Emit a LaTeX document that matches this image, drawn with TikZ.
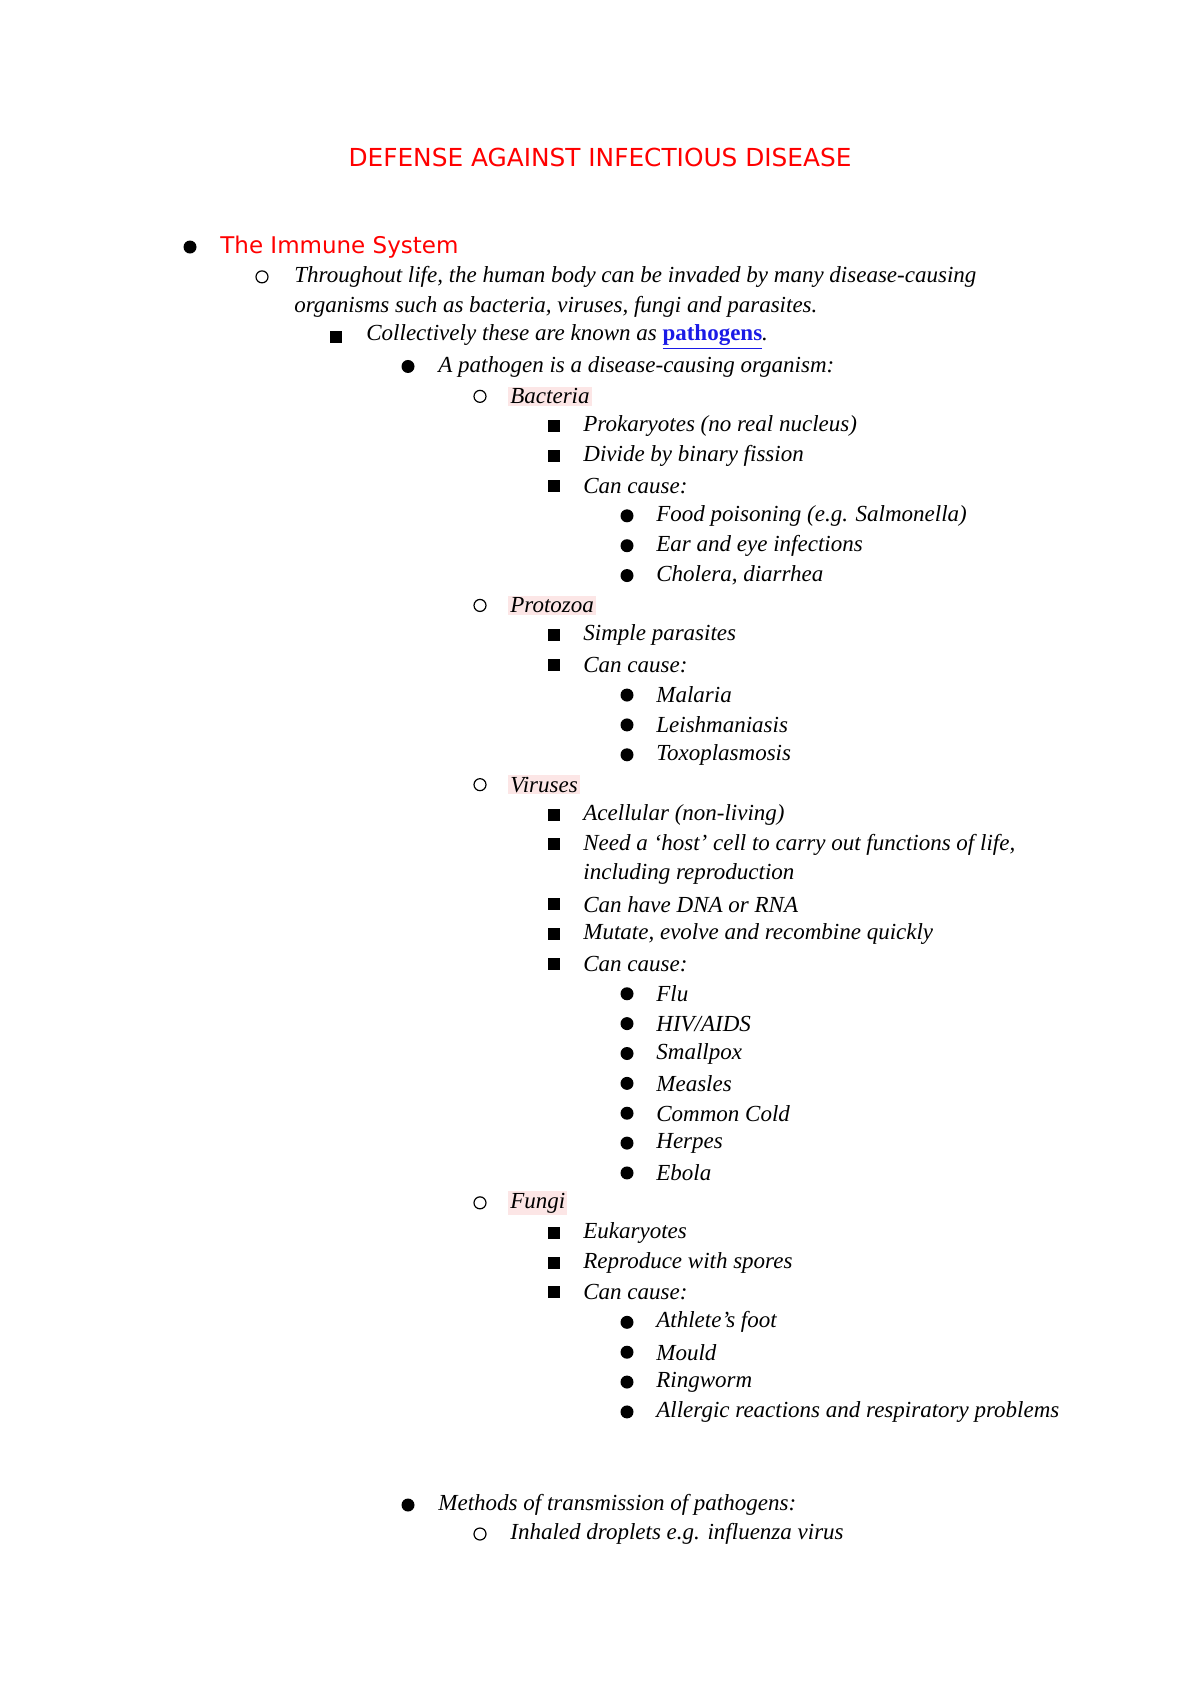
\documentclass[tikz,border=0pt]{standalone}
\usepackage{fontspec}
\setmainfont{Liberation Serif}
\newfontfamily\titlefont{DejaVu Sans}
\definecolor{tred}{HTML}{FF0000}
\definecolor{hlpink}{HTML}{FCE6E6}
\definecolor{lnk}{HTML}{1A1AE6}
\begin{document}
\begin{tikzpicture}[x=1pt,y=1pt,
  txt/.style={anchor=west,inner sep=1pt,font=\fontsize{11.5}{13}\selectfont\itshape},
  hl/.style={txt,fill=hlpink},
  bfc/.style={circle,fill=black,inner sep=0pt,minimum size=6.5pt},
  boc/.style={circle,draw=black,line width=0.6pt,inner sep=0pt,minimum size=6pt},
  bsq/.style={rectangle,fill=black,inner sep=0pt,minimum size=6pt},
  bnone/.style={inner sep=0pt,minimum size=0pt}]
\useasboundingbox (0,0) rectangle (600,-849);
\node[font=\titlefont\fontsize{12.4}{14}\selectfont,text=tred] (title) at (300,-78.5) {DEFENSE AGAINST INFECTIOUS DISEASE};
\node[bfc] (b0) at (95,-123.5) {};
\node[anchor=west,inner sep=1pt,font=\titlefont\fontsize{11.5}{13}\selectfont,text=tred] (t0) at (109,-123.5) {The Immune System};
\foreach \lv/\ix/\bt/\st/\tx in {
 1/1/boc/txt/{Throughout life, the human body can be invaded by many disease-causing},
 1/2/bnone/txt/{organisms such as bacteria, viruses, fungi and parasites.},
 3/4/bfc/txt/{A pathogen is a disease-causing organism:},
 4/5/boc/hl/{Bacteria},
 5/6/bsq/txt/{Prokaryotes (no real nucleus)},
 5/7/bsq/txt/{Divide by binary fission},
 5/8/bsq/txt/{Can cause:},
 6/9/bfc/txt/{Food poisoning (e.g. Salmonella)},
 6/10/bfc/txt/{Ear and eye infections},
 6/11/bfc/txt/{Cholera, diarrhea},
 4/12/boc/hl/{Protozoa},
 5/13/bsq/txt/{Simple parasites},
 5/14/bsq/txt/{Can cause:},
 6/15/bfc/txt/{Malaria},
 6/16/bfc/txt/{Leishmaniasis},
 6/17/bfc/txt/{Toxoplasmosis},
 4/18/boc/hl/{Viruses},
 5/19/bsq/txt/{Acellular (non-living)},
 5/20/bsq/txt/{Need a `host' cell to carry out functions of life,},
 5/21/bnone/txt/{including reproduction},
 5/22/bsq/txt/{Can have DNA or RNA},
 5/23/bsq/txt/{Mutate, evolve and recombine quickly},
 5/24/bsq/txt/{Can cause:},
 6/25/bfc/txt/{Flu},
 6/26/bfc/txt/{HIV/AIDS},
 6/27/bfc/txt/{Smallpox},
 6/28/bfc/txt/{Measles},
 6/29/bfc/txt/{Common Cold},
 6/30/bfc/txt/{Herpes},
 6/31/bfc/txt/{Ebola},
 4/32/boc/hl/{Fungi},
 5/33/bsq/txt/{Eukaryotes},
 5/34/bsq/txt/{Reproduce with spores},
 5/35/bsq/txt/{Can cause:},
 6/36/bfc/txt/{Athlete's foot},
 6/37/bfc/txt/{Mould},
 6/38/bfc/txt/{Ringworm},
 6/39/bfc/txt/{Allergic reactions and respiratory problems}}{
  \pgfmathsetmacro\yy{-(247+29.87*\ix)/2}
  \pgfmathsetmacro\bx{{95,131,168,204,240,277,313.5}[\lv]}
  \pgfmathsetmacro\txx{{109,146,182,218,254,290.5,327}[\lv]}
  \node[\bt] (b\ix) at (\bx,\yy) {};
  \node[\st] (t\ix) at (\txx,\yy) {\tx};
}
\node[bsq] (b3) at (168,-{(247+29.87*3)/2}) {};
\node[txt] (t3) at (182,-{(247+29.87*3)/2}) {Collectively these are known as \textcolor{lnk}{\upshape\bfseries\underline{pathogens}}.};
\node[bfc] (b40) at (204,-752.5) {};
\node[txt] (t40) at (218,-752.5) {Methods of transmission of pathogens:};
\node[boc] (b41) at (240,-767) {};
\node[txt] (t41) at (254,-767) {Inhaled droplets e.g. influenza virus};
\end{tikzpicture}
\end{document}
